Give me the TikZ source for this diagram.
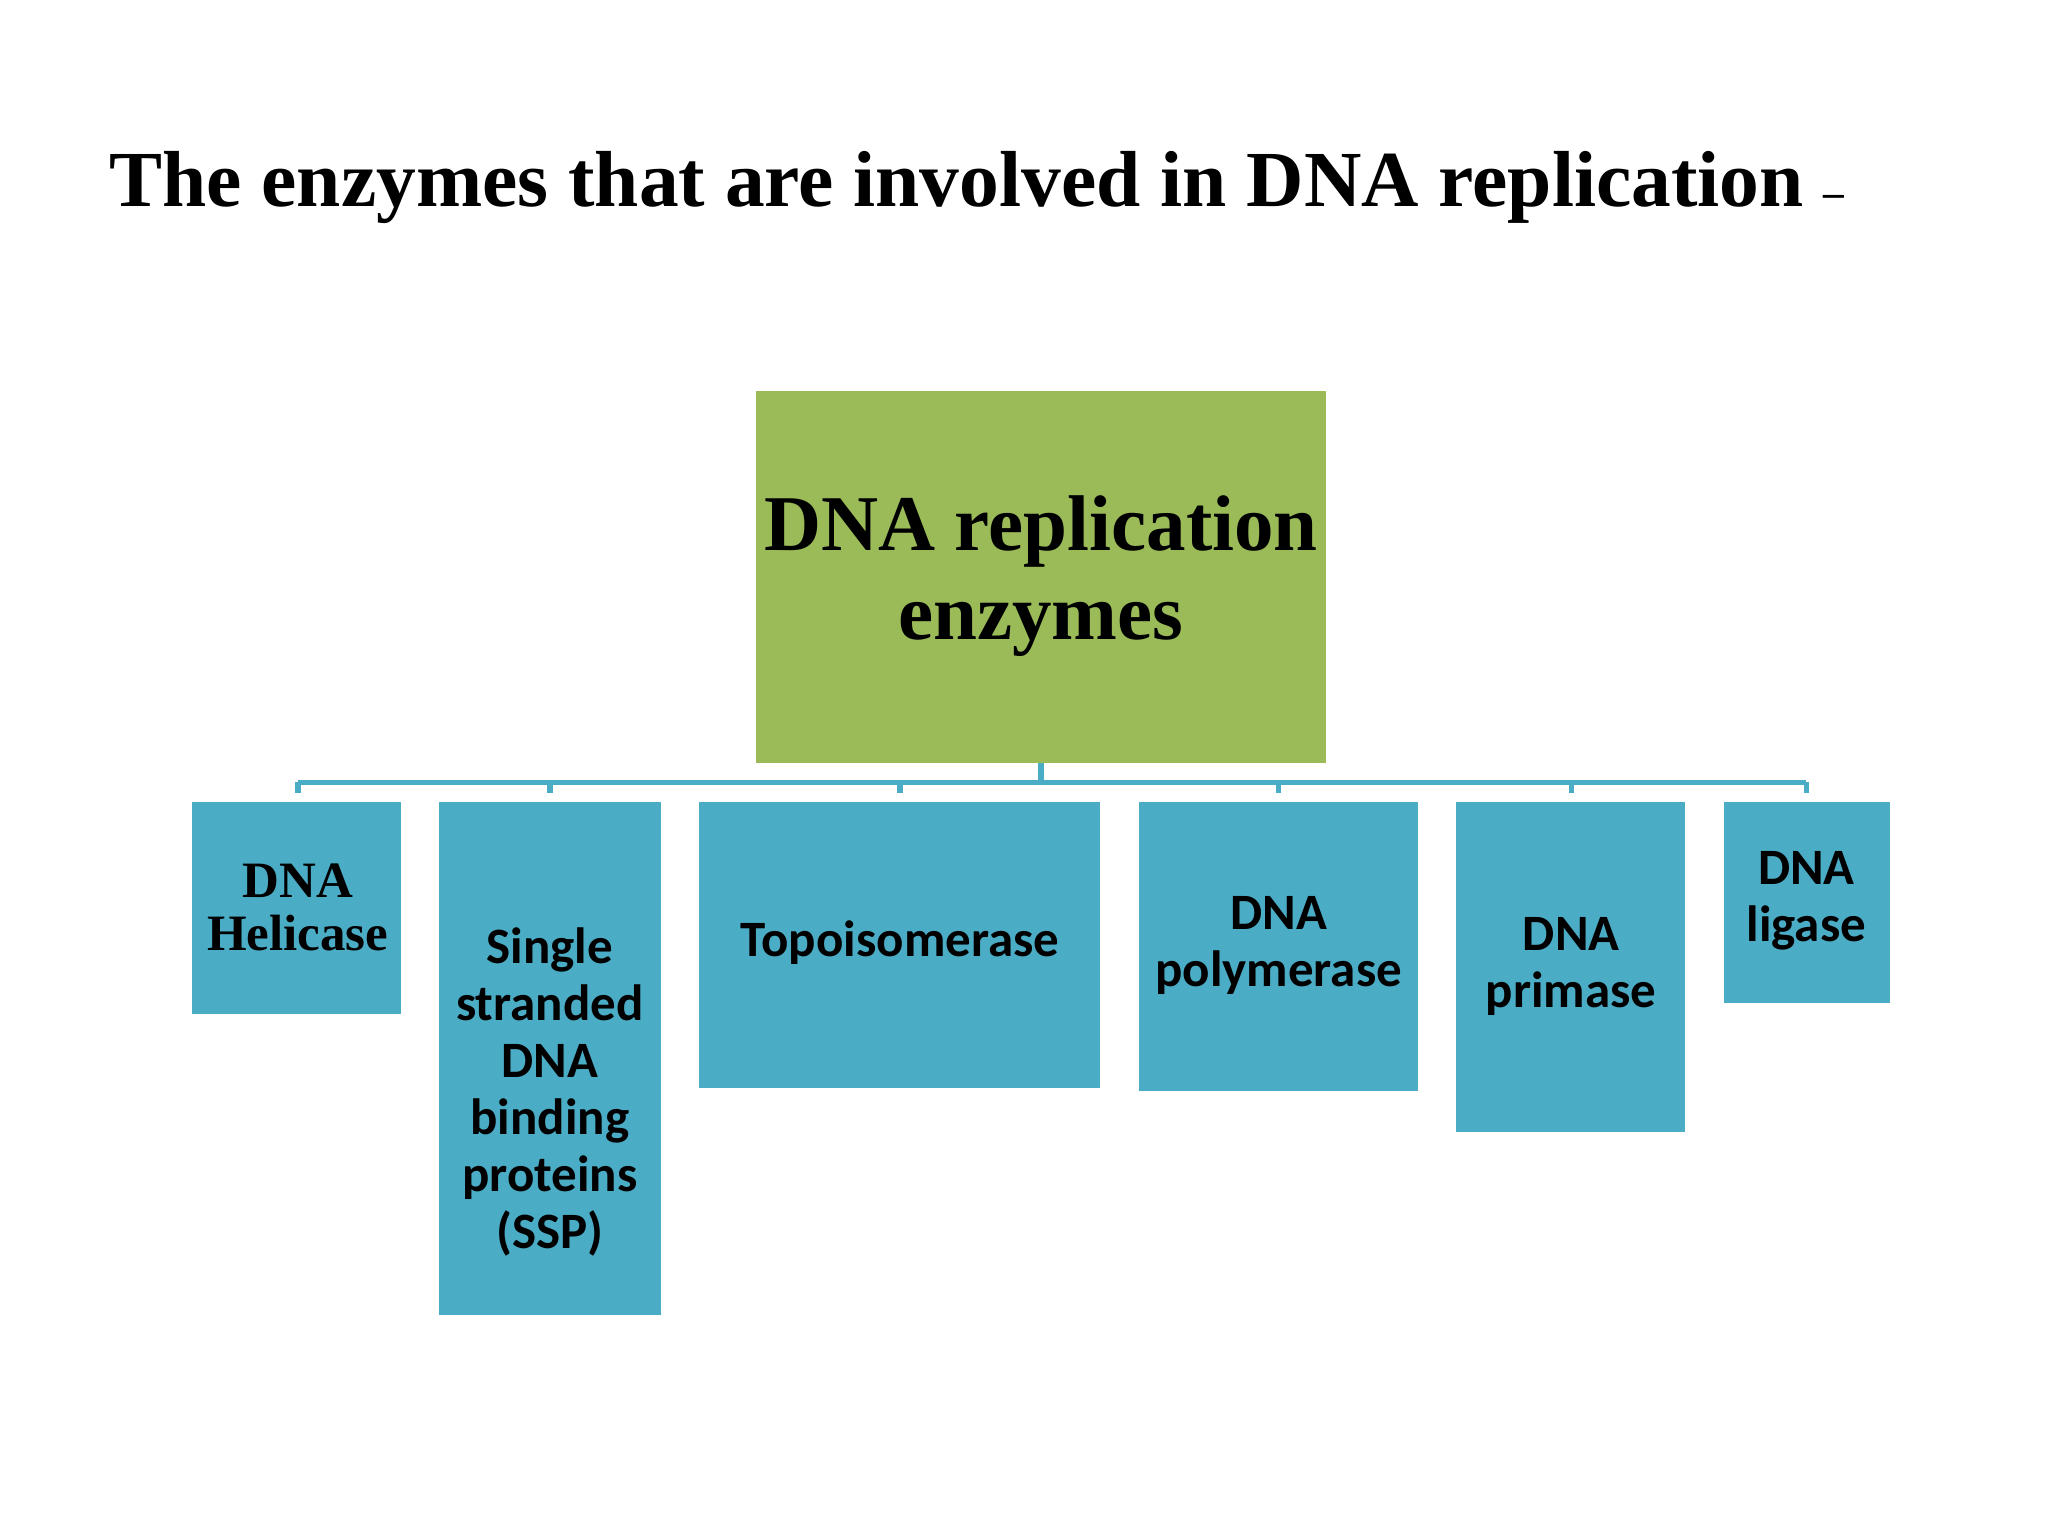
\documentclass[tikz,border=0pt]{standalone}
\usepackage{fontspec}
\setmainfont{Liberation Serif}
\newfontfamily\carfont{Carlito}
\definecolor{gr}{HTML}{9BBB59}
\definecolor{bl}{HTML}{4BACC6}
\begin{document}
\begin{tikzpicture}[x=0.01cm,y=-0.01cm,
 ct/.style={font=\carfont\bfseries\fontsize{11.1}{12.4}\selectfont,align=center,text=black},
 st/.style={font=\bfseries\fontsize{11.1}{11.6}\selectfont,align=center,text=black},
 ln/.style={draw=bl,line width=1.2pt}]
\useasboundingbox (0,0) rectangle (1568,1176);
\node[anchor=base west,inner sep=0pt,font=\bfseries\fontsize{17.3}{20}\selectfont] (title) at (83,158) {The enzymes that are involved in DNA replication {\fontsize{9}{11}\selectfont –}};
\fill[gr] (579,299) rectangle (1015,584);
\node[font=\bfseries\fontsize{17.2}{19.5}\selectfont,align=center] (root) at (797,441) {DNA replication\\enzymes};
\coordinate (rb) at (797,584);
\coordinate (hl) at (228,599); \coordinate (hr) at (1383,599);
\draw[ln] (rb) -- (797,599);
\draw[ln] (hl) -- (hr);
\foreach \x in {228,421,689,979,1203,1383} \draw[ln] (\x,599) -- (\x,607);
\fill[bl] (147,614) rectangle (307,776);
\fill[bl] (336,614) rectangle (506,1007);
\fill[bl] (535,614) rectangle (842,833);
\fill[bl] (872,614) rectangle (1086,835);
\fill[bl] (1115,614) rectangle (1290,867);
\fill[bl] (1320,614) rectangle (1447,768);
\node[st] (a) at (228,695) {DNA\\Helicase};
\node[ct] (b) at (421,836) {Single\\stranded\\DNA\\binding\\proteins\\(SSP)};
\node[ct] (c) at (689,722) {Topoisomerase};
\node[ct] (d) at (979,724) {DNA\\polymerase};
\node[ct] (e) at (1203,740) {DNA\\primase};
\node[ct] (f) at (1383,690) {DNA\\ligase};
\end{tikzpicture}
\end{document}
